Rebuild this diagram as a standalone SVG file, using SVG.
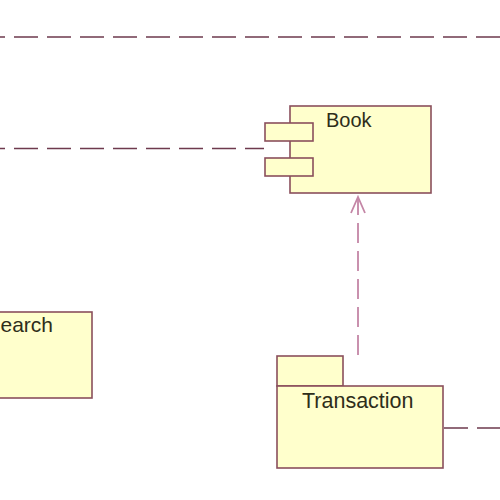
<svg xmlns="http://www.w3.org/2000/svg" width="500" height="500" viewBox="0 0 500 500">
<defs>
<style>
.box{fill:#ffffcc;stroke:#8a4f5c;stroke-width:1.6}
.dep{fill:none;stroke:#6e3a4e;stroke-width:1.5;stroke-dasharray:24 9}
.arr{fill:none;stroke:#c486a6;stroke-width:1.8;stroke-dasharray:20 8}
.lbl{font-family:"Liberation Sans",Arial,sans-serif;font-size:20px;fill:#2e2e1a}
</style>
</defs>
<rect width="500" height="500" fill="#ffffff"/>
<g id="connectors">
<line class="dep" x1="-19" y1="37" x2="500" y2="37"/>
<line class="dep" x1="-19" y1="148.5" x2="264" y2="148.5"/>
<line class="arr" x1="358" y1="355" x2="358" y2="199"/>
<polyline fill="none" stroke="#c486a6" stroke-width="1.8" points="351,213 358,197 365,213"/>
<line class="dep" x1="444" y1="428" x2="500" y2="428" stroke-dasharray="26 8"/>
</g>
<g id="book">
<rect class="box" x="290" y="106" width="141" height="87"/>
<rect class="box" x="265" y="123" width="48" height="18"/>
<rect class="box" x="265" y="158" width="48" height="18"/>
<text class="lbl" x="326" y="127">Book</text>
</g>
<g id="search">
<rect class="box" x="-20" y="312" width="112" height="86"/>
<text class="lbl" x="-13.5" y="332" style="font-size:21px">Search</text>
</g>
<g id="transaction">
<rect class="box" x="277" y="356" width="66" height="30"/>
<rect class="box" x="277" y="386" width="166" height="82"/>
<text class="lbl" x="302" y="408" style="font-size:21.5px">Transaction</text>
</g>
</svg>
